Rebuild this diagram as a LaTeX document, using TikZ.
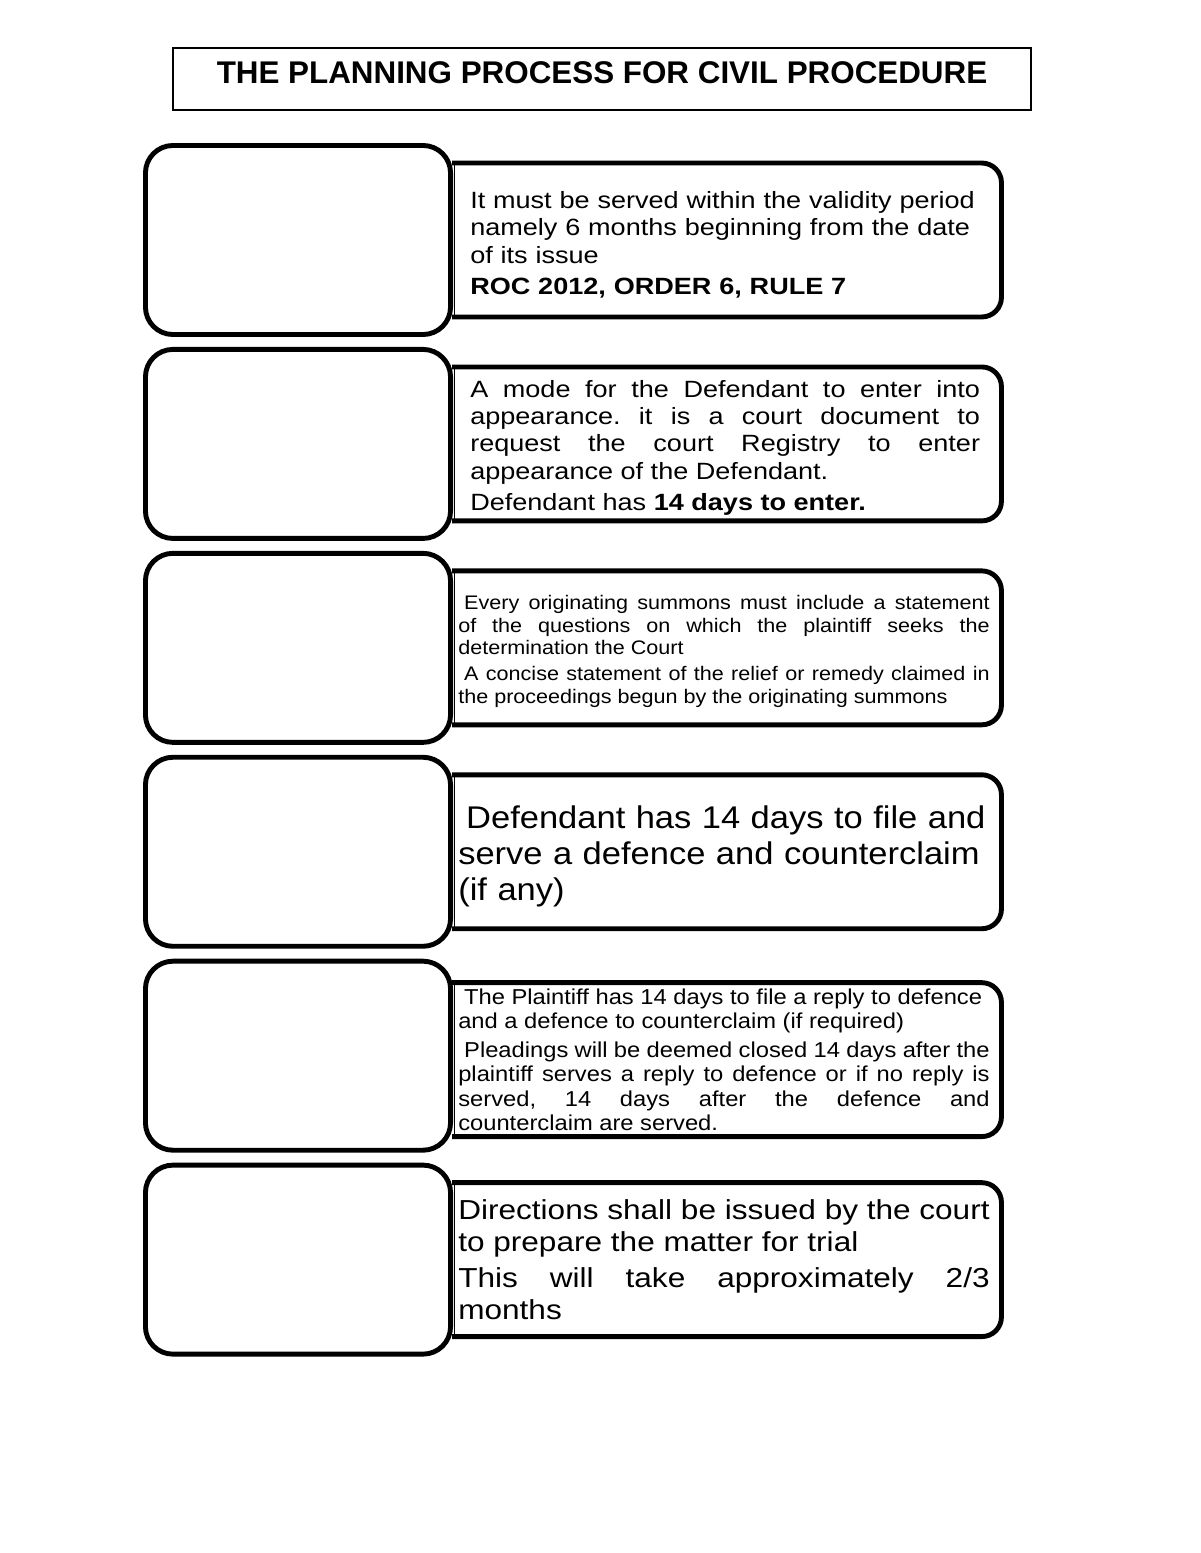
\documentclass[tikz,border=0pt]{standalone}
\usepackage{fontspec}
\setmainfont{Liberation Sans}
\newfontfamily\wideface[FakeStretch=1.15]{Liberation Sans}
\newfontfamily\midface[FakeStretch=1.10]{Liberation Sans}
\usetikzlibrary{positioning}

\begin{document}
\frenchspacing
\begin{tikzpicture}[x=0.51pt, y=-0.51pt, node distance=5.1pt]
		\tikzset{stage/.style={draw, line width=2.5pt, rounded corners=14pt, minimum width=155.6pt, minimum height=96.4pt}}
		\tikzset{note/.style={outer sep=0pt, minimum width=278.7pt, minimum height=78.5pt}}
		\tikzset{notetext/.style={anchor=west, inner sep=0pt}}
		\tikzset{rim/.style={line width=2.5pt, rounded corners=10pt}}
		\tikzset{seam/.style={line width=0.5pt}}
		\useasboundingbox (0,0) rectangle (1200,1553);

		% Title
		\node[draw, line width=0.75pt, minimum width=437.6pt, minimum height=31.6pt] (title) at (602,79) {};
		\node[font=\fontsize{16}{19}\selectfont\bfseries] (title text) at ([yshift=3pt]title.center) {THE PLANNING PROCESS FOR CIVIL PROCEDURE};

		% Stages (left column)
		\node[stage] (writ) at (298,240) {};
		\node[stage, below=of writ] (appearance) {};
		\node[stage, below=of appearance] (summons) {};
		\node[stage, below=of summons] (defence) {};
		\node[stage, below=of defence] (reply) {};
		\node[stage, below=of reply] (directions) {};

		% Notes (right column)
		\node[note, right=1pt of writ] (writ note) {};
		\node[note, right=1pt of appearance] (appearance note) {};
		\node[note, right=1pt of summons] (summons note) {};
		\node[note, right=1pt of defence] (defence note) {};
		\node[note, right=1pt of reply, yshift=-2pt] (reply note) {};
		\node[note, right=1pt of directions] (directions note) {};

		% Note frames, rounded on the right only
		\draw[rim] ([xshift=-1.5pt]writ note.north west) -- (writ note.north east) -- (writ note.south east) -- ([xshift=-1.5pt]writ note.south west);
		\draw[rim] ([xshift=-1.5pt]appearance note.north west) -- (appearance note.north east) -- (appearance note.south east) -- ([xshift=-1.5pt]appearance note.south west);
		\draw[rim] ([xshift=-1.5pt]summons note.north west) -- (summons note.north east) -- (summons note.south east) -- ([xshift=-1.5pt]summons note.south west);
		\draw[rim] ([xshift=-1.5pt]defence note.north west) -- (defence note.north east) -- (defence note.south east) -- ([xshift=-1.5pt]defence note.south west);
		\draw[rim] ([xshift=-1.5pt]reply note.north west) -- (reply note.north east) -- (reply note.south east) -- ([xshift=-1.5pt]reply note.south west);
		\draw[rim] ([xshift=-1.5pt]directions note.north west) -- (directions note.north east) -- (directions note.south east) -- ([xshift=-1.5pt]directions note.south west);
		\draw[seam] (writ note.north west) -- (writ note.south west);
		\draw[seam] (appearance note.north west) -- (appearance note.south west);
		\draw[seam] (summons note.north west) -- (summons note.south west);
		\draw[seam] (defence note.north west) -- (defence note.south west);
		\draw[seam] (reply note.north west) -- (reply note.south west);
		\draw[seam] (directions note.north west) -- (directions note.south west);

		% Note texts
		\node[notetext, text width=260pt, align=left, font=\wideface\fontsize{12}{14}\selectfont] (writ text) at ([xshift=7.6pt, yshift=-2.5pt]writ note.west) {It must be served within the validity period\\ namely 6 months beginning from the date\\ of its issue\\[2pt] \textbf{ROC 2012, ORDER 6, RULE 7}};
		\node[notetext, text width=260pt, align=justify, font=\wideface\fontsize{12}{14}\selectfont] (appearance text) at ([xshift=7.6pt, yshift=-2pt]appearance note.west) {A mode for the Defendant to enter into\linebreak appearance. it is a court document to\linebreak request the court Registry to enter\linebreak appearance of the Defendant.\par\vspace{2pt}Defendant has \textbf{14 days to enter.}};
		\node[notetext, text width=271pt, align=justify, font=\midface\fontsize{10}{11.5}\selectfont] (summons text) at ([xshift=1.5pt, yshift=-1.8pt]summons note.west) {\hspace*{3pt}Every originating summons must include a statement\linebreak of the questions on which the plaintiff seeks the\linebreak determination the Court\par\vspace{1.5pt}\hspace*{3pt}A concise statement of the relief or remedy claimed in\linebreak the proceedings begun by the originating summons};
		\node[notetext, text width=271pt, align=left, font=\midface\fontsize{16}{18.4}\selectfont] (defence text) at ([xshift=1.5pt, yshift=-2.3pt]defence note.west) {\hspace*{4pt}Defendant has 14 days to file and\\ serve a defence and counterclaim\\ (if any)};
		\node[notetext, text width=271pt, align=justify, font=\midface\fontsize{11}{12.5}\selectfont] (reply text) at ([xshift=1.5pt]reply note.west) {\hspace*{3pt}The Plaintiff has 14 days to file a reply to defence\newline and a defence to counterclaim (if required)\par\vspace{2pt}\hspace*{3pt}Pleadings will be deemed closed 14 days after the\linebreak plaintiff serves a reply to defence or if no reply is\linebreak served, 14 days after the defence and\linebreak counterclaim are served.};
		\node[notetext, text width=271pt, align=justify, font=\wideface\fontsize{14}{16.3}\selectfont] (directions text) at ([xshift=1.5pt]directions note.west) {Directions shall be issued by the court\linebreak to prepare the matter for trial\par\vspace{2.5pt}This will take approximately 2/3\linebreak months};
\end{tikzpicture}
\end{document}
